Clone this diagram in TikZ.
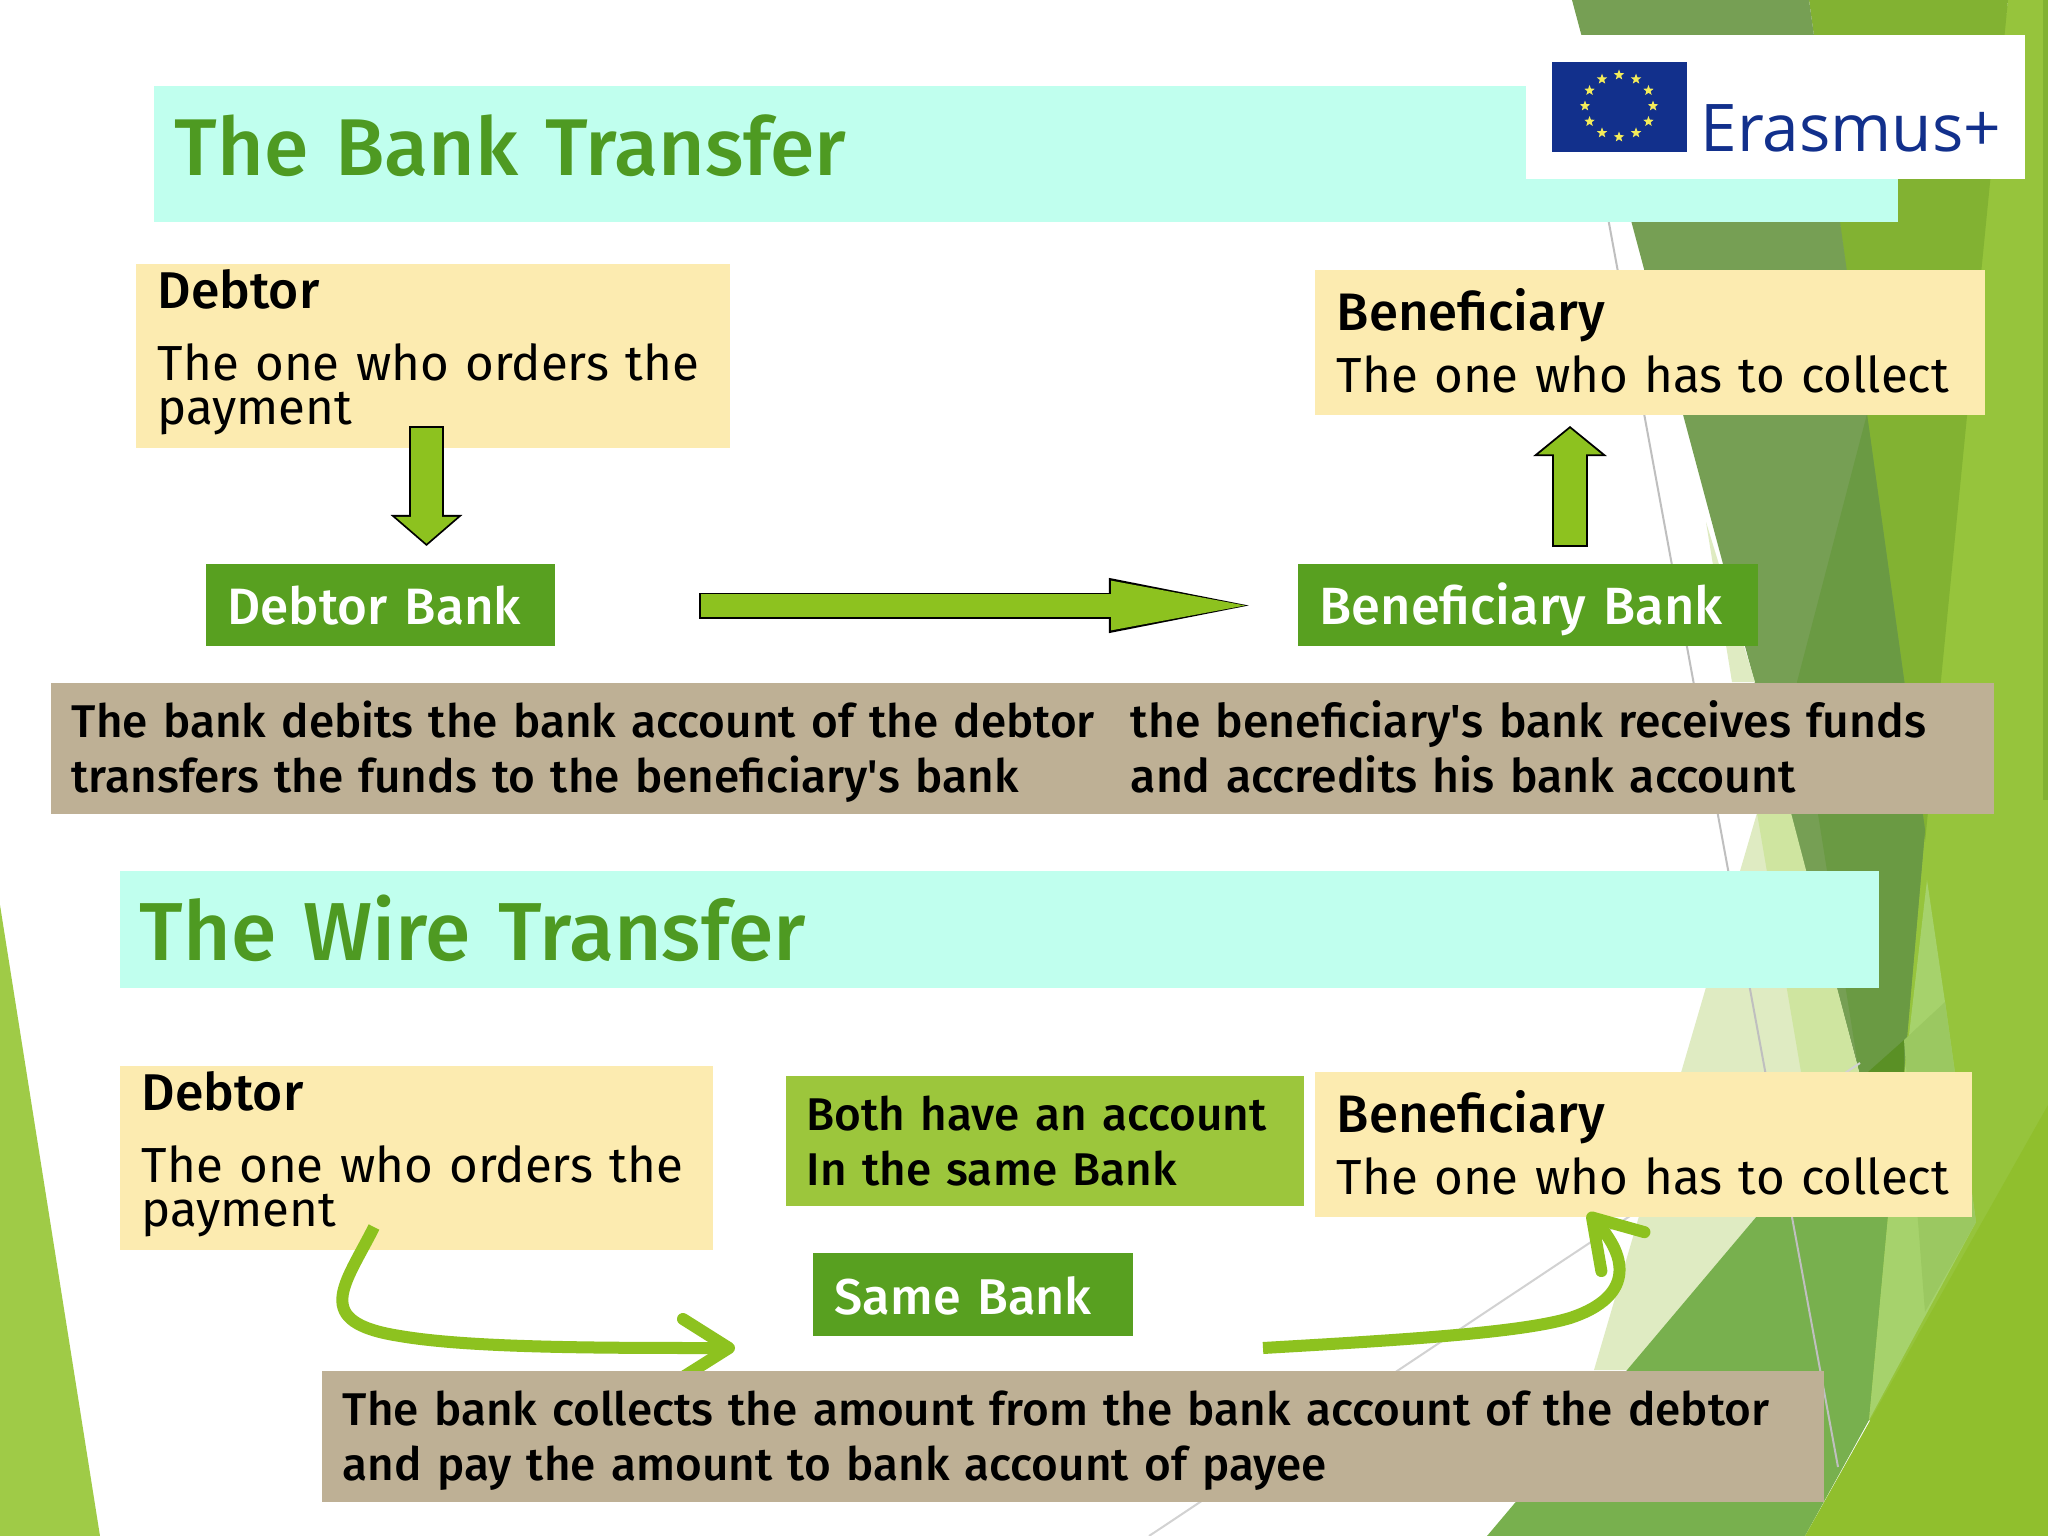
\documentclass[tikz,border=0pt]{standalone}
\usepackage{fontspec}
\usetikzlibrary{arrows.meta,shapes.geometric,calc}
\setsansfont{Fira Sans}[BoldFont={Fira Sans Medium}]
\newfontfamily\logofont{Open Sans}
\renewcommand{\familydefault}{\sfdefault}
\definecolor{titlecyan}{HTML}{C0FFEE}
\definecolor{titlegreen}{HTML}{4E9A22}
\definecolor{cream}{HTML}{FCEBB0}
\definecolor{tan}{HTML}{BEB095}
\definecolor{bankgreen}{HTML}{58A020}
\definecolor{leafgreen}{HTML}{9CC63C}
\definecolor{arrowgreen}{HTML}{8DC21F}
\definecolor{eublue}{HTML}{12308C}
\definecolor{shadeone}{HTML}{769F54}
\definecolor{shadetwo}{HTML}{6A9A43}
\definecolor{shadethree}{HTML}{5A9025}
\definecolor{midgreen}{HTML}{82B232}
\definecolor{stripegreen}{HTML}{96C43C}
\definecolor{palegreen}{HTML}{DFEBC2}
\definecolor{paletwo}{HTML}{CFE5A0}
\definecolor{lowgreen}{HTML}{78B04E}
\definecolor{lightone}{HTML}{A6D26C}
\definecolor{lighttwo}{HTML}{9BC861}
\definecolor{cornergreen}{HTML}{90BF2D}
\definecolor{wedgegreen}{HTML}{9FCB47}
\tikzset{
	titlebox/.style={anchor=north west,fill=titlecyan,inner xsep=.2cm,inner ysep=0pt,text width=#1,align=left,text=titlegreen,font=\fontsize{23.4}{24}\selectfont\bfseries},
	notebox/.style={anchor=north west,fill=cream,inner xsep=.22cm,inner ysep=0pt,align=left,font=\fontsize{14}{12.45}\selectfont},
	bankbox/.style={anchor=north west,fill=bankgreen,inner xsep=.22cm,inner ysep=0pt,align=left,text=white,text height=.45cm,text depth=.05cm,font=\fontsize{#1}{15}\selectfont\bfseries},
	tanbox/.style={anchor=north west,fill=tan,inner xsep=.21cm,inner ysep=0pt,align=left,font=\fontsize{13.05}{15.6}\selectfont\bfseries},
	blockarrow/.style n args={6}{
		preaction={draw=black,line width=#1cm,shorten >=0pt,shorten <=0pt,-{Triangle[length=#2cm,width=#3cm]}},
		draw=arrowgreen,line width=#1cm-.036cm,shorten >=#6cm,shorten <=.018cm,-{Triangle[length=#4cm,width=#5cm]}},
	bendarrow/.style={draw=arrowgreen,line width=.12cm,-{Straight Barb[length=.46cm,width=.58cm,round]}},
	starmark/.style={star,star points=5,star point ratio=2.4,fill=yellow!70!white!90!gray,inner sep=0pt,minimum size=.11cm}
}
\newcommand{\notehead}[2][15]{{\fontsize{#1}{12}\selectfont\textbf{#2}}}
\begin{document}
\begin{tikzpicture}[x=.01cm,y=-.01cm]
	\useasboundingbox (0,0) rectangle (2048,1536);
	\fill[white] (0,0) rectangle (2048,1536);

	%background shapes
	\fill[wedgegreen] (0,905) -- (100,1536) -- (0,1536) -- cycle;
	\fill[stripegreen] (2008,0) -- (2048,0) -- (2048,1536) -- (1869,1420) -- (1880,1072) -- (1900,830) -- cycle;
	\fill[midgreen] (2043,0) rectangle (2048,800);
	\fill[midgreen] (1809,0) -- (2008,0) -- (1925,842) -- cycle;
	\fill[shadeone] (1572,0) -- (1809,0) -- (1925,830) -- (1904,1072) -- (1859,1072) -- cycle;
	\fill[shadetwo] (1867,414) -- (1925,830) -- (1904,1072) -- (1859,1072) -- (1797,682) -- cycle;
	\fill[shadethree] (1868,1072) -- (1904,1040) -- (1904,1072) -- cycle;
	\fill[palegreen] (1757,813) -- (1790,813) -- (1859,1072) -- (1757,1216) -- (1629,1370) -- (1594,1370) -- cycle;
	\fill[paletwo] (1757,813) -- (1791,813) -- (1859,1072) -- (1801,1072) -- cycle;
	\fill[palegreen] (1706,522) -- (1755,682) -- (1732,682) -- cycle;
	\fill[lowgreen] (1757,1216) -- (1888,1216) -- (1869,1420) -- (1805,1536) -- (1487,1536) -- cycle;
	\fill[lightone] (1888,1216) -- (1927,880) -- (1945,1002) -- (1976,1222) -- (1869,1420) -- cycle;
	\fill[lighttwo] (1904,1040) -- (1945,1002) -- (1976,1222) -- (1925,1312) -- cycle;
	\fill[cornergreen] (2048,1105) -- (2048,1536) -- (1805,1536) -- cycle;
	\draw[gray!50,line width=.02cm] (1590,120) -- (1838,1467);
	\draw[gray!35,line width=.02cm] (1860,1063) -- (1149,1536);

	%titles
	\node[titlebox=17.01cm,inner xsep=.21cm,minimum height=1.36cm,font=\fontsize{22.9}{24}\selectfont\bfseries] (banktitle) at (153,85) {\raisebox{-.22cm}[0pt][0pt]{The Bank Transfer}};
	\node[titlebox=17.18cm,minimum height=1.17cm] (wiretitle) at (119,870) {\raisebox{-.315cm}[0pt][0pt]{The Wire Transfer}};

	%logo
	\node[anchor=north west,fill=white,minimum width=4.99cm,minimum height=1.44cm,inner sep=0pt] (logobox) at (1525,34) {};
	\node[anchor=north west,fill=eublue,minimum width=1.35cm,minimum height=.9cm,inner sep=0pt] (euflag) at (1551,61) {};
	\foreach \i in {1,...,12}
		\node[starmark] (star\i) at ($(1619,106)+({\i*30}:.34cm and .31cm)$) {};
	\node[anchor=base west,inner sep=0pt,text=eublue,font=\logofont\fontsize{18.7}{19}\selectfont] (erasmus) at (1700,151) {Erasmus+};

	%bank transfer nodes
	\node[notebox,text width=5.5cm,minimum height=1.84cm] (debtorone) at (135,263) {\notehead[14.7]{Debtor}\\[.28cm]The one who orders the\\payment\rule[-.17cm]{0pt}{0pt}};
	\node[notebox,text width=6.26cm,minimum height=1.45cm] (beneficiaryone) at (1314,269) {\notehead{Beneficiary}\\[.1cm]The one who has to collect\rule[-.04cm]{0pt}{0pt}};
	\node[bankbox=14.55,text width=3.05cm,minimum height=.82cm] (debtorbank) at (205,563) {Debtor Bank};
	\node[bankbox=14.9,text width=4.16cm,minimum height=.82cm] (beneficiarybank) at (1297,563) {Beneficiary Bank};
	\node[tanbox,text width=19cm,minimum height=1.31cm] (banknote) at (50,682) {\rule{0pt}{.44cm}The bank debits the bank account of the debtor\\transfers the funds to the beneficiary\textquotesingle s bank};
	\node[anchor=north west,inner sep=0pt,align=left,text width=8.4cm,minimum height=1.31cm,font=\fontsize{13.18}{15.6}\selectfont\bfseries] (creditnote) at (1130,682) {\rule{0pt}{.44cm}the beneficiary\textquotesingle s bank receives funds\\and accredits his bank account\vphantom{y}};

	%bank transfer arrows
	\coordinate (debtstart) at (426.5,426);
	\coordinate (debtend) at (426.5,546);
	\coordinate (movestart) at (699,605.5);
	\coordinate (moveend) at (1278,605.5);
	\coordinate (paystart) at (1570,547);
	\coordinate (payend) at (1570,426);
	\draw[blockarrow={.35}{.31}{.70}{.268}{.605}{.024}] (debtstart) -- (debtend);
	\draw[blockarrow={.26}{1.69}{.46}{1.57}{.42}{.098}] (movestart) -- (moveend);
	\draw[blockarrow={.36}{.30}{.72}{.26}{.62}{.024}] (paystart) -- (payend);

	%wire transfer nodes
	\node[notebox,text width=5.49cm,minimum height=1.84cm] (debtortwo) at (119,1065) {\notehead[14.7]{Debtor}\\[.28cm]The one who orders the\\payment\rule[-.17cm]{0pt}{0pt}};
	\node[anchor=north west,fill=leafgreen,inner xsep=.21cm,inner ysep=0pt,align=left,text width=4.76cm,minimum height=1.3cm,font=\fontsize{13.05}{15.6}\selectfont\bfseries] (bothnote) at (785,1075) {Both have an account\\In the same Bank};
	\node[notebox,text width=6.13cm,minimum height=1.45cm] (beneficiarytwo) at (1314,1071) {\notehead{Beneficiary}\\[.1cm]The one who has to collect\rule[-.04cm]{0pt}{0pt}};
	\node[bankbox=14.3,text width=2.76cm,minimum height=.83cm] (samebank) at (812,1252) {Same Bank};

	%wire transfer arrows
	\coordinate (collectstart) at (374,1227);
	\coordinate (collectend) at (735,1348);
	\coordinate (creditstart) at (1263,1348);
	\coordinate (creditend) at (1588,1213);
	\draw[bendarrow] (collectstart) .. controls (345,1285) and (310,1322) .. (400,1336) .. controls (470,1348) and (600,1348) .. (collectend);
	\draw[bendarrow] (creditstart) .. controls (1400,1340) and (1520,1333) .. (1570,1318) .. controls (1625,1300) and (1635,1265) .. (creditend);
	\node[tanbox,text width=14.59cm,minimum height=1.31cm] (wirenote) at (321,1370) {\rule{0pt}{.44cm}The bank collects the amount from the bank account of the debtor\\and pay the amount to bank account of payee};
\end{tikzpicture}
\end{document}
